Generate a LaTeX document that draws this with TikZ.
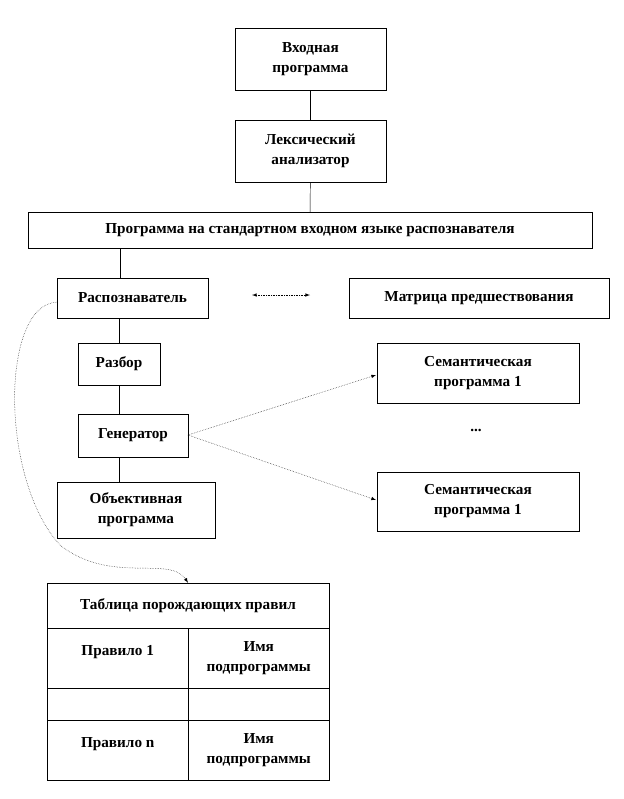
\documentclass[tikz,border=0pt]{standalone}
\usepackage{fontspec}
\setmainfont{Liberation Serif}
\usepackage{tikz}
\usetikzlibrary{arrows}

\begin{document}
\begin{tikzpicture}[x=0.03cm,y=-0.03cm,>=latex,thin,
    box/.style={draw,inner sep=0pt,font=\bfseries\fontsize{13}{17}\selectfont,align=center},
    link/.style={densely dotted,->}]
    \useasboundingbox (0,0) rectangle (624,799);
    \node[box,minimum width=151*0.03cm,minimum height=62*0.03cm] (input) at (310.5,59) {Входная\\программа};
    \node[box,minimum width=151*0.03cm,minimum height=62*0.03cm] (lex) at (310.5,151) {Лексический\\анализатор};
    \node[box,minimum width=564*0.03cm,minimum height=36*0.03cm] (std) at (310,230) {Программа на стандартном входном языке распознавателя};
    \node[box,minimum width=151*0.03cm,minimum height=40*0.03cm] (recog) at (132.5,298) {Распознаватель};
    \node[box,minimum width=260*0.03cm,minimum height=40*0.03cm] (matrix) at (479,298) {Матрица предшествования};
    \node[box,minimum width=82*0.03cm,minimum height=42*0.03cm] (parse) at (119,364) {Разбор};
    \node[box,minimum width=110*0.03cm,minimum height=43*0.03cm] (gen) at (133,435.5) {Генератор};
    \node[box,minimum width=158*0.03cm,minimum height=56*0.03cm] (obj) at (136,510) {Объективная\\программа};
    \node[box,minimum width=202*0.03cm,minimum height=60*0.03cm] (sem1) at (478,373) {Семантическая\\программа 1};
    \node[box,minimum width=202*0.03cm,minimum height=59*0.03cm] (sem2) at (478,501.5) {Семантическая\\программа 1};
    \node[font=\bfseries\fontsize{13}{17}\selectfont] (dots) at (476,430) {...};
    % table of rules
    \node[box,minimum width=282*0.03cm,minimum height=45*0.03cm] (thead) at (188,605.5) {Таблица порождающих правил};
    \node[box,minimum width=141*0.03cm,minimum height=60*0.03cm,anchor=north west] (r1a) at (47,628) {\raisebox{14pt}{Правило 1}};
    \node[box,minimum width=141*0.03cm,minimum height=60*0.03cm,anchor=north west] (r1b) at (188,628) {Имя\\подпрограммы};
    \node[box,minimum width=141*0.03cm,minimum height=32*0.03cm,anchor=north west] (r2a) at (47,688) {};
    \node[box,minimum width=141*0.03cm,minimum height=32*0.03cm,anchor=north west] (r2b) at (188,688) {};
    \node[box,minimum width=141*0.03cm,minimum height=60*0.03cm,anchor=north west] (r3a) at (47,720) {\raisebox{14pt}{Правило n}};
    \node[box,minimum width=141*0.03cm,minimum height=60*0.03cm,anchor=north west] (r3b) at (188,720) {Имя\\подпрограммы};
    % connectors
    \draw (input) -- (lex);
    \draw (lex) -- (std);
    \coordinate (s1) at (120,248);
    \draw (s1) -- (s1 |- recog.north);
    \draw (recog.south -| parse) -- (parse);
    \draw (parse) -- (parse |- gen.north);
    \draw (gen.south -| parse) -- (parse |- obj.north);
    \coordinate (dl) at (252,295);
    \coordinate (dr) at (310,295);
    \draw[densely dotted,<->] (dl) -- (dr);
    \coordinate (g1) at (188,435);
    \coordinate (e1) at (376,375);
    \coordinate (e2) at (376,500);
    \draw[link] (g1) -- (e1);
    \draw[link] (g1) -- (e2);
    \draw[densely dotted,->] (57,302) .. controls (0,305) and (0,480) .. (60,545) .. controls (110,585) and (170,555) .. (thead.north);
\end{tikzpicture}
\end{document}
